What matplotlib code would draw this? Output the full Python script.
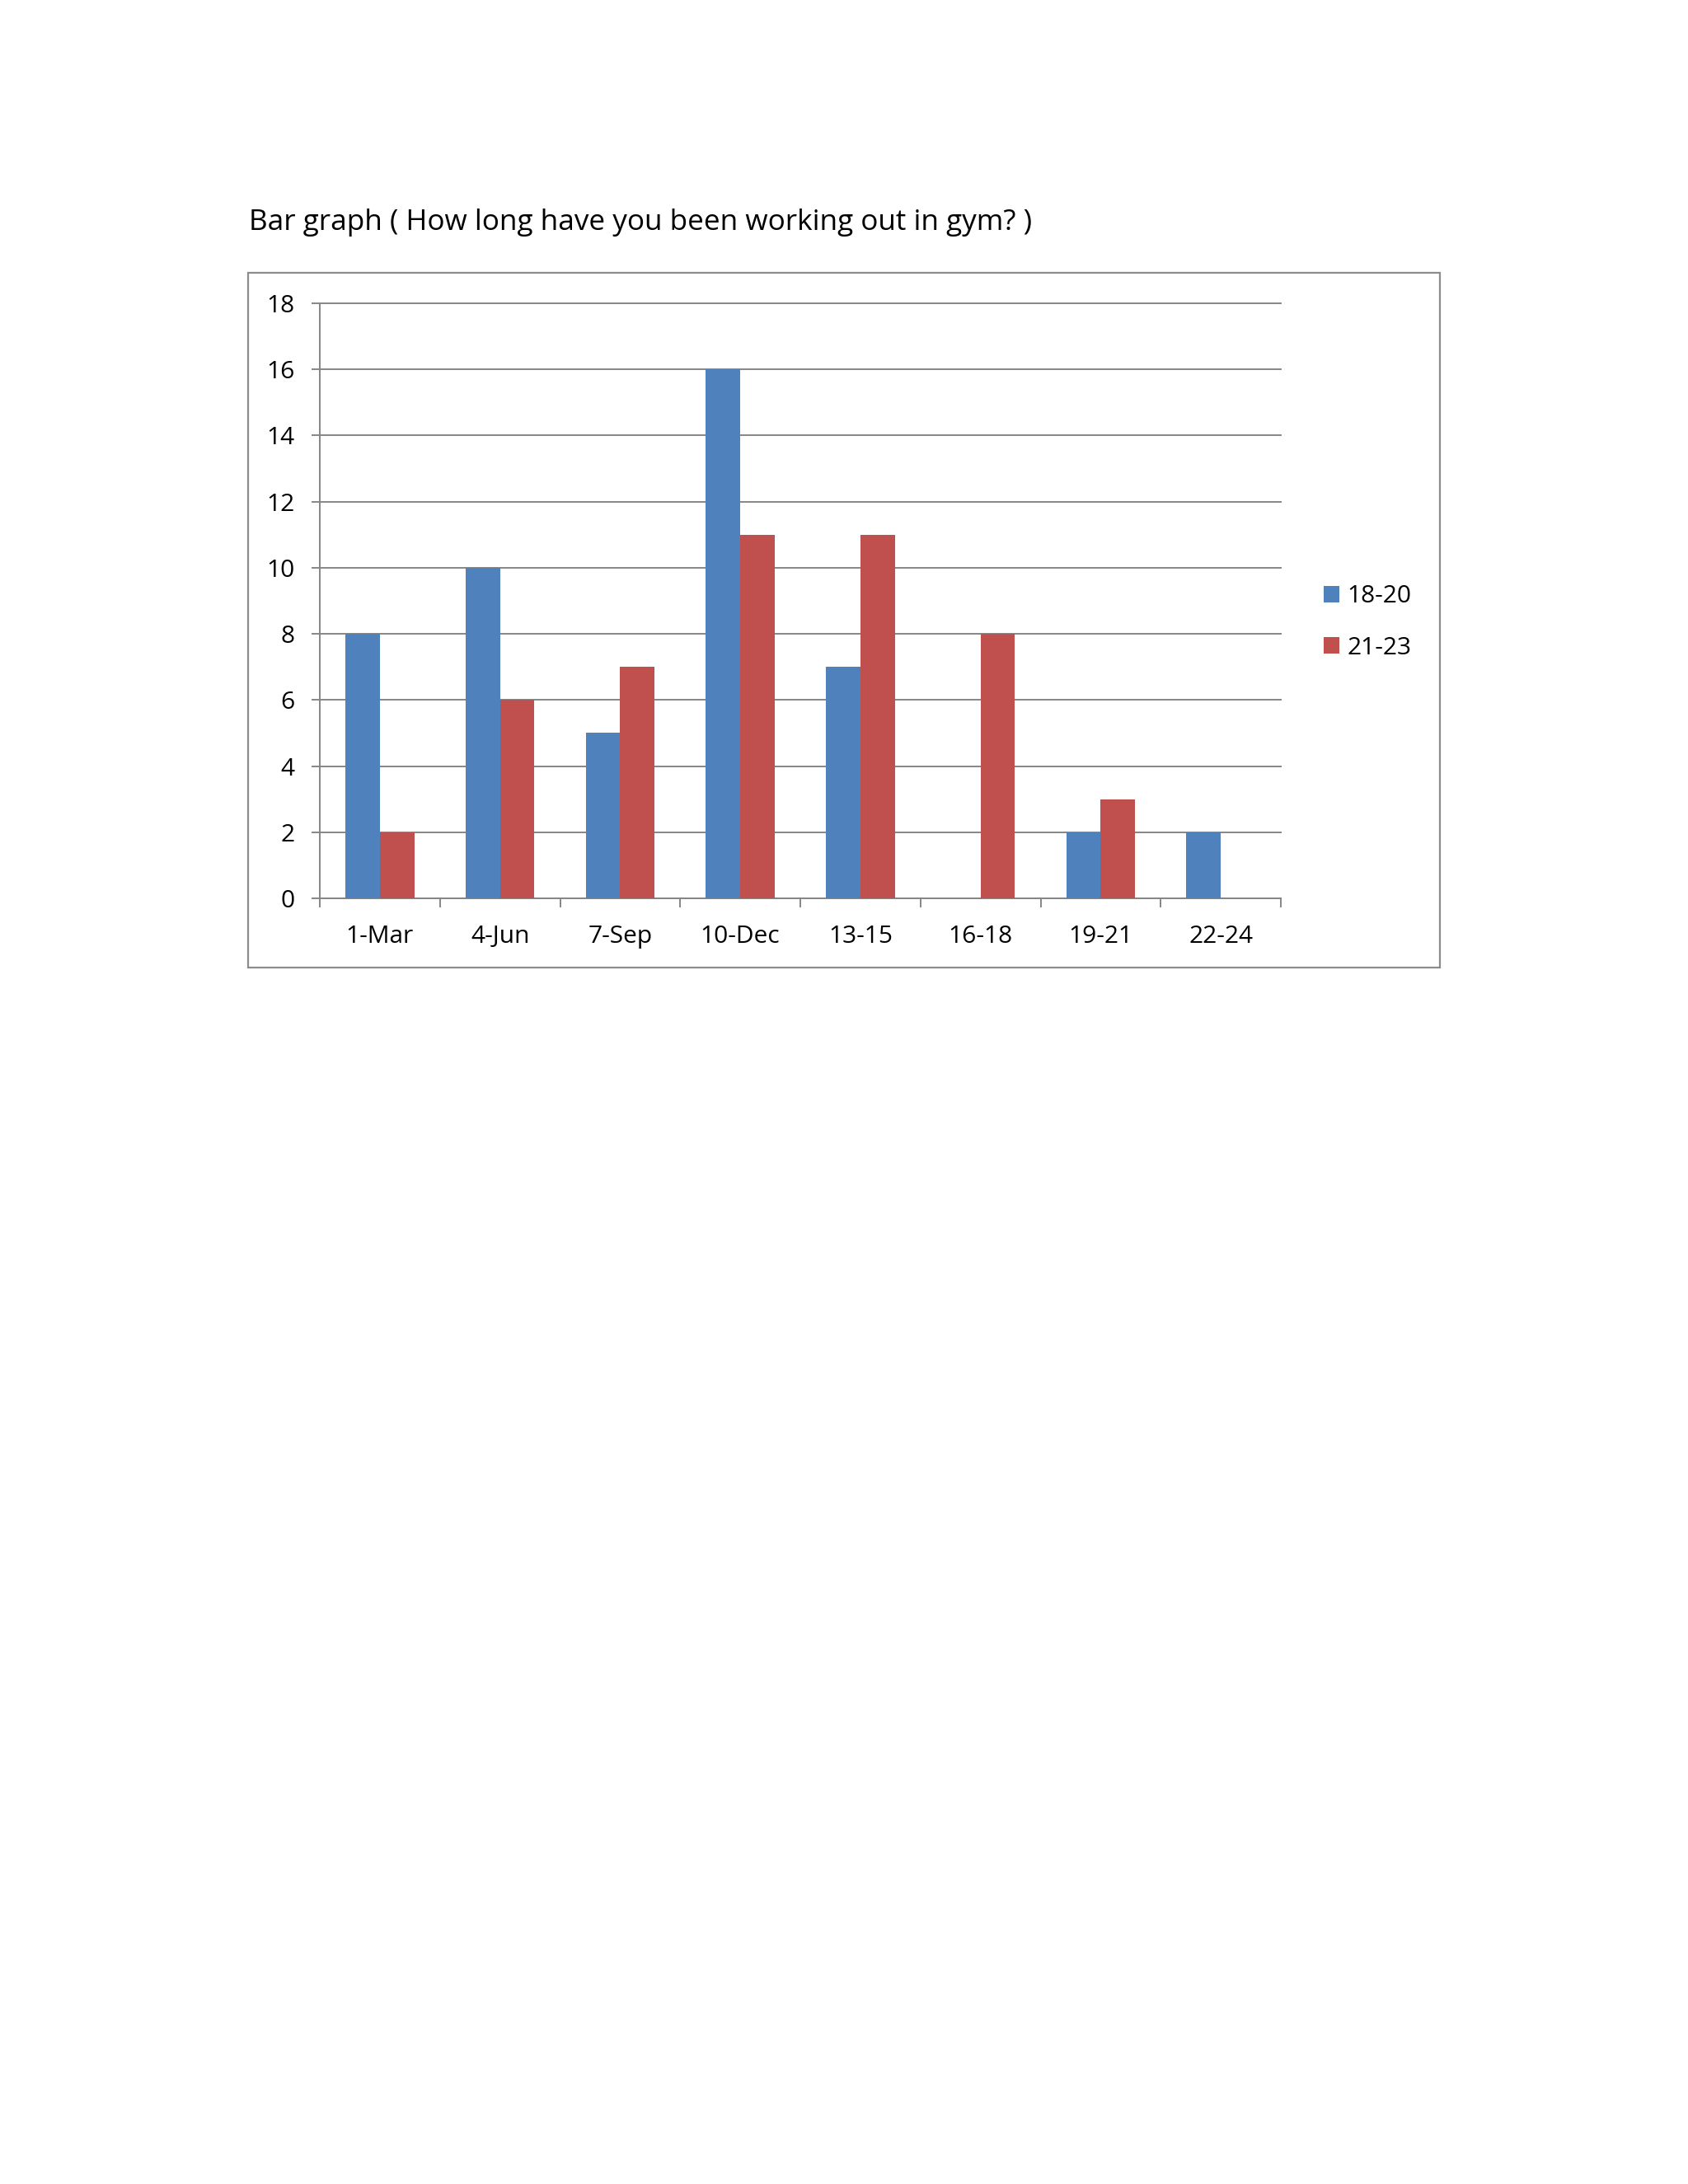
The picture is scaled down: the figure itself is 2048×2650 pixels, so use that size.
import matplotlib
matplotlib.use("Agg")
import matplotlib.pyplot as plt
from matplotlib.patches import Rectangle, Patch
import numpy as np

plt.rcParams['font.family'] = ['Open Sans', 'DejaVu Sans']

categories = ["1-Mar", "4-Jun", "7-Sep", "10-Dec", "13-15", "16-18", "19-21", "22-24"]
series_names = ["18-20", "21-23"]
values_18_20 = [8, 10, 5, 16, 7, 0, 2, 2]
values_21_23 = [2, 6, 7, 11, 11, 8, 3, 0]
y_ticks = [0, 2, 4, 6, 8, 10, 12, 14, 16, 18]
title = "Bar graph ( How long have you been working out in gym? )"

blue = "#4F81BD"
red = "#C0504D"
gray = "#868686"

W, H = 2048, 2650
fig = plt.figure(figsize=(W / 100, H / 100), dpi=100)
fig.patch.set_facecolor("white")

def fx(px):
    return px / W

def fy(py):
    return 1 - py / H

# outer chart frame
fig.patches.append(Rectangle((fx(301), fy(1174)), fx(1747) - fx(301), fy(331) - fy(1174),
                             transform=fig.transFigure, fill=False, edgecolor="#8C8C8C",
                             linewidth=1.6, zorder=0))

# title
fig.text(fx(302), fy(270), title, fontsize=25.3, ha="left", va="center", color="black")

ax = fig.add_axes([fx(388), fy(1090), fx(1554) - fx(388), fy(368) - fy(1090)])
x = np.arange(len(categories))
bw = 1 / 3.5
ax.bar(x - bw / 2, values_18_20, width=bw, color=blue, label=series_names[0], zorder=3)
ax.bar(x + bw / 2, values_21_23, width=bw, color=red, label=series_names[1], zorder=3)

ax.set_xlim(-0.5, len(categories) - 0.5)
ax.set_ylim(0, 18)
ax.set_yticks(y_ticks)
ax.set_yticklabels([str(v) for v in y_ticks])
ax.yaxis.grid(True, color=gray, linewidth=1.4, zorder=1)
ax.set_axisbelow(True)
for gl in ax.get_ygridlines():
    gl.set_clip_on(False)

ax.set_xticks(x)
ax.set_xticklabels(categories)
ax.set_xticks(np.arange(len(categories) + 1) - 0.5, minor=True)
ax.tick_params(axis="x", which="major", length=0, pad=23, labelsize=21.5)
ax.tick_params(axis="x", which="minor", length=8, width=1.4, color=gray, direction="out")
ax.tick_params(axis="y", which="major", length=7, width=1.4, color=gray, pad=15, labelsize=21.5)

for s in ["top", "right"]:
    ax.spines[s].set_visible(False)
for s in ["left", "bottom"]:
    ax.spines[s].set_color(gray)
    ax.spines[s].set_linewidth(1.4)

handles = [Patch(facecolor=blue, edgecolor="none"), Patch(facecolor=red, edgecolor="none")]
fig.legend(handles, series_names, loc="center left", bbox_to_anchor=(fx(1606), fy(755)),
           frameon=False, fontsize=21.5, handlelength=0.63, handleheight=0.63,
           handletextpad=0.33, labelspacing=1.12, borderpad=0, borderaxespad=0)

fig.savefig("out.png", dpi=100, facecolor="white")
